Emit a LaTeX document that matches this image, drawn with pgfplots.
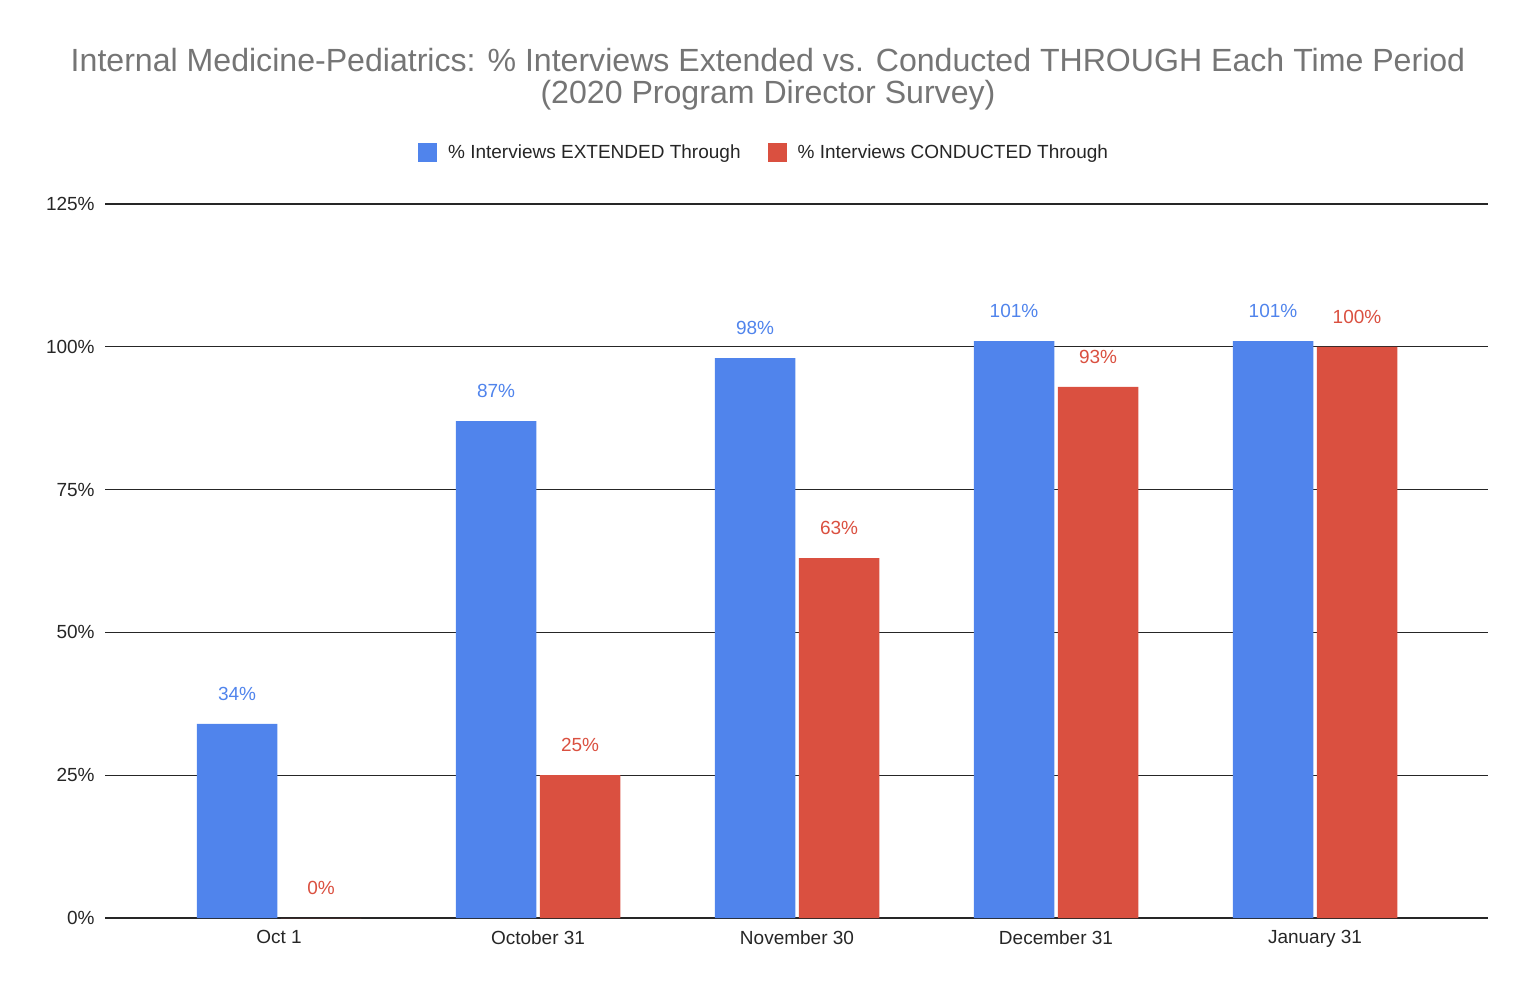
\documentclass[border=0pt]{standalone}
\usepackage{fontspec}
\setmainfont{Liberation Sans}
\usepackage{pgfplots}
\usepackage{pgfplotstable}
\pgfplotsset{compat=1.18}
\definecolor{cblue}{RGB}{80,132,236}
\definecolor{cred}{RGB}{218,80,64}
\definecolor{ctitle}{RGB}{117,117,117}
\pgfplotstableread{
x ext con
0 34 0
1 87 25
2 98 63
3 101 93
4 101 100
}\data
\begin{document}
\begin{tikzpicture}
\path[use as bounding box] (0,0) rectangle (768pt,496pt);
\begin{axis}[
  at={(52.5pt,37pt)}, anchor=south west,
  width=691.5pt, height=357pt, scale only axis,
  xmin=-0.672, xmax=4.668, ymin=0, ymax=125,
  xtick={0,1,2,3,4},
  xticklabels={Oct 1,October 31,November 30,December 31,January 31},
  ytick={0,25,50,75,100,125},
  yticklabel={\pgfmathprintnumber{\tick}\%},
  /pgf/number format/assume math mode=true,
  ymajorgrids, major grid style={black!85, line width=0.7pt},
  axis line style={draw=none},
  major tick length=0pt,
  tick label style={font=\fontsize{9.5}{11}\selectfont, text=black!85},
  yticklabel style={anchor=east, inner sep=0pt, xshift=-5pt},
  xticklabel style={anchor=north, inner sep=0pt, yshift=-6pt},
  ybar, bar width=40.25pt,
  clip=false,
  title={Internal Medicine-Pediatrics: \% Interviews Extended vs. Conducted THROUGH Each Time Period\\(2020 Program Director Survey)},
  title style={at={(0.4794,1)}, anchor=center, yshift=56.5pt, align=center,
    font=\fontsize{16.05}{16}\selectfont, text=ctitle, inner sep=0pt},
  legend style={legend columns=-1, draw=none, at={(0.478,1)}, anchor=center, yshift=25.5pt, xshift=-1.5pt,
    font=\fontsize{9.5}{11}\selectfont, text=black!85,
    nodes={inner sep=0pt},
    /tikz/every odd column/.append style={column sep=5.5pt},
    /tikz/every even column/.append style={column sep=13.5pt}},
  nodes near coords={\pgfmathprintnumber{\pgfplotspointmeta}\%},
  every node near coord/.append style={anchor=center, yshift=15pt, inner sep=0pt, font=\fontsize{9.5}{11}\selectfont},
]
\addplot[fill=cblue, draw=none, bar shift=-21pt, every node near coord/.append style={text=cblue},
  legend image code/.code={\fill[cblue] (0pt,-4.75pt) rectangle (9.5pt,4.75pt);}] table[x=x,y=ext]{\data};
\addplot[fill=cred, draw=none, bar shift=21pt, every node near coord/.append style={text=cred},
  legend image code/.code={\fill[cred] (0pt,-4.75pt) rectangle (9.5pt,4.75pt);}] table[x=x,y=con]{\data};
\legend{\% Interviews EXTENDED Through, \% Interviews CONDUCTED Through}
\end{axis}
\end{tikzpicture}
\end{document}
